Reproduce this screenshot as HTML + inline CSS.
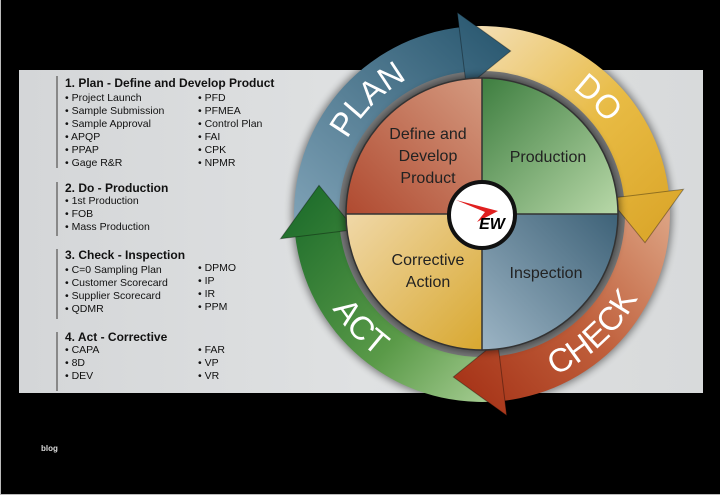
<!DOCTYPE html>
<html><head><meta charset="utf-8">
<style>
html,body{margin:0;padding:0;background:#000;}
#root{position:relative;width:720px;height:495px;background:#000;overflow:hidden;font-family:"Liberation Sans",sans-serif;box-sizing:border-box;border-left:1px solid #bbb;border-bottom:1px solid #bbb;}
#panel{position:absolute;left:18px;top:70px;width:684px;height:323px;background:linear-gradient(90deg,#d4d6d8,#dfe1e2 50%,#d8dadb);}
.t{position:absolute;font-size:10.5px;color:#111;white-space:nowrap;line-height:13px;}
.h{position:absolute;font-size:12px;font-weight:bold;color:#111;white-space:nowrap;}
.bar{position:absolute;left:55px;width:2px;background:#888;}
svg{position:absolute;left:0;top:0;}
</style></head><body>
<div id="root">
<div id="panel"></div>
<div class="bar" style="top:76px;height:92px"></div>
<div class="bar" style="top:182px;height:54px"></div>
<div class="bar" style="top:249px;height:70px"></div>
<div class="bar" style="top:332px;height:59px"></div>

<div class="h" style="left:64px;top:76px">1. Plan - Define and Develop Product</div>
<div class="t" style="left:64px;top:92px">• Project Launch<br>• Sample Submission<br>• Sample Approval<br>• APQP<br>• PPAP<br>• Gage R&amp;R</div>
<div class="t" style="left:197px;top:92px">• PFD<br>• PFMEA<br>• Control Plan<br>• FAI<br>• CPK<br>• NPMR</div>

<div class="h" style="left:64px;top:181px">2. Do - Production</div>
<div class="t" style="left:64px;top:195px">• 1st Production<br>• FOB<br>• Mass Production</div>

<div class="h" style="left:64px;top:248px">3. Check - Inspection</div>
<div class="t" style="left:64px;top:264px">• C=0 Sampling Plan<br>• Customer Scorecard<br>• Supplier Scorecard<br>• QDMR</div>
<div class="t" style="left:197px;top:262px">• DPMO<br>• IP<br>• IR<br>• PPM</div>

<div class="h" style="left:64px;top:330px">4. Act - Corrective</div>
<div class="t" style="left:64px;top:344px">• CAPA<br>• 8D<br>• DEV</div>
<div class="t" style="left:197px;top:344px">• FAR<br>• VP<br>• VR</div>

<div style="position:absolute;left:40px;top:444px;color:#ddd;font-size:8px;font-weight:bold">blog</div>

<svg width="720" height="495" viewBox="0 0 720 495">
<defs>
<filter id="sh" x="-20%" y="-20%" width="140%" height="140%"><feGaussianBlur stdDeviation="4"/></filter>
<linearGradient id="gB" gradientUnits="userSpaceOnUse" x1="300" y1="260" x2="500" y2="40"><stop offset="0" stop-color="#86a8bc"/><stop offset="1" stop-color="#2c5a72"/></linearGradient>
<linearGradient id="gY" gradientUnits="userSpaceOnUse" x1="480" y1="30" x2="660" y2="220"><stop offset="0" stop-color="#f3ddb0"/><stop offset="0.55" stop-color="#e8bb44"/><stop offset="1" stop-color="#dca82c"/></linearGradient>
<linearGradient id="gR" gradientUnits="userSpaceOnUse" x1="665" y1="220" x2="470" y2="390"><stop offset="0" stop-color="#dba080"/><stop offset="0.5" stop-color="#c0603c"/><stop offset="1" stop-color="#a8361a"/></linearGradient>
<linearGradient id="gG" gradientUnits="userSpaceOnUse" x1="520" y1="400" x2="300" y2="200"><stop offset="0" stop-color="#b4d6a0"/><stop offset="0.45" stop-color="#5a9a48"/><stop offset="1" stop-color="#1f6e2c"/></linearGradient>
<linearGradient id="q1" x1="0" y1="1" x2="1" y2="0"><stop offset="0" stop-color="#b04a30"/><stop offset="1" stop-color="#d49a80"/></linearGradient>
<linearGradient id="q2" x1="0" y1="0" x2="1" y2="1"><stop offset="0" stop-color="#3e7e40"/><stop offset="1" stop-color="#b8d8a8"/></linearGradient>
<linearGradient id="q3" x1="1" y1="0" x2="0" y2="1"><stop offset="0" stop-color="#3e6278"/><stop offset="1" stop-color="#9cb4c4"/></linearGradient>
<linearGradient id="q4" x1="0" y1="0" x2="1" y2="1"><stop offset="0" stop-color="#f0d8a8"/><stop offset="1" stop-color="#d8a830"/></linearGradient>
<path id="pPLAN"/><path id="pDO"/><path id="pCHECK"/><path id="pACT"/>
</defs>
<circle cx="481" cy="214" r="190" fill="#000" opacity="0.45" filter="url(#sh)"/>
<g id="arrows"></g>
<circle cx="481" cy="214" r="138" fill="#000" opacity="0.5" filter="url(#sh)"/>
<path id="Q1" fill="url(#q1)"/><path id="Q2" fill="url(#q2)"/><path id="Q3" fill="url(#q3)"/><path id="Q4" fill="url(#q4)"/>
<line x1="345" y1="214" x2="617" y2="214" stroke="#333" stroke-width="1.5"/>
<line x1="481" y1="78" x2="481" y2="350" stroke="#333" stroke-width="1.5"/>
<circle cx="481" cy="214" r="136" fill="none" stroke="#333" stroke-width="1.5"/>
<g font-family="Liberation Sans, sans-serif" font-size="16" fill="#222" text-anchor="middle">
<text x="427" y="139">Define and</text><text x="427" y="161">Develop</text><text x="427" y="183">Product</text>
<text x="547" y="162">Production</text>
<text x="427" y="265">Corrective</text><text x="427" y="287">Action</text>
<text x="545" y="278">Inspection</text>
</g>
<circle cx="481" cy="215" r="33" fill="#fff" stroke="#111" stroke-width="4"/>
<path d="M455 200 L497 211 L476 222 L484 212 Z" fill="#e02020"/>
<text x="491" y="229" font-family="Liberation Sans, sans-serif" font-size="16" font-weight="bold" font-style="italic" fill="#000" text-anchor="middle">EW</text>
<g font-family="Liberation Sans, sans-serif" font-size="33" fill="#fff">
<text><textPath href="#pPLAN" startOffset="50%" text-anchor="middle">PLAN</textPath></text>
<text><textPath href="#pDO" startOffset="50%" text-anchor="middle">DO</textPath></text>
<text><textPath href="#pCHECK" startOffset="50%" text-anchor="middle">CHECK</textPath></text>
<text><textPath href="#pACT" startOffset="50%" text-anchor="middle">ACT</textPath></text>
</g>
</svg>
</div>
<script>
(function(){
var cx=481,cy=214;
function P(r,t){t=t*Math.PI/180;return (cx+r*Math.sin(t)).toFixed(1)+" "+(cy-r*Math.cos(t)).toFixed(1);}
var ri=143,ro=188,hi=128,ho=203,rm=165.5;
function body(S,B){return "M"+P(ri,S)+" L"+P(ro,S)+" A"+ro+" "+ro+" 0 0 1 "+P(ro,B)+" L"+P(ri,B)+" A"+ri+" "+ri+" 0 0 0 "+P(ri,S)+"Z";}
function head(B,T){return "M"+P(hi,B)+" L"+P(ho,B)+" L"+P(rm,T)+"Z";}
var arr=[["gB",10],["gY",100],["gR",190],["gG",280]];
var g=document.getElementById("arrows");
var bodies="",heads="";
arr.forEach(function(a,i){var T=a[1],B=T-17,prev=arr[(i+3)%4][1];if(i==0)prev-=360;var S=prev-14;
bodies+='<path d="'+body(S,B+1)+'" fill="url(#'+a[0]+')"/>';
heads+='<path d="'+head(B,T)+'" fill="url(#'+a[0]+')" stroke="rgba(0,0,0,0.35)" stroke-width="1"/>';});
g.innerHTML=bodies+heads;
function q(a,b){return "M"+cx+" "+cy+" L"+P(136,a)+" A136 136 0 0 1 "+P(136,b)+"Z";}
document.getElementById("Q1").setAttribute("d",q(270,360));
document.getElementById("Q2").setAttribute("d",q(0,90));
document.getElementById("Q3").setAttribute("d",q(90,180));
document.getElementById("Q4").setAttribute("d",q(180,270));
function arcTop(id,c,r){document.getElementById(id).setAttribute("d","M"+P(r,c-60)+" A"+r+" "+r+" 0 0 1 "+P(r,c+60));}
function arcBot(id,c,r){document.getElementById(id).setAttribute("d","M"+P(r,c+60)+" A"+r+" "+r+" 0 0 0 "+P(r,c-60));}
arcTop("pPLAN",-45,154);arcTop("pDO",45,154);arcBot("pCHECK",137,177);arcBot("pACT",227,177);
})();
</script>
</body></html>
